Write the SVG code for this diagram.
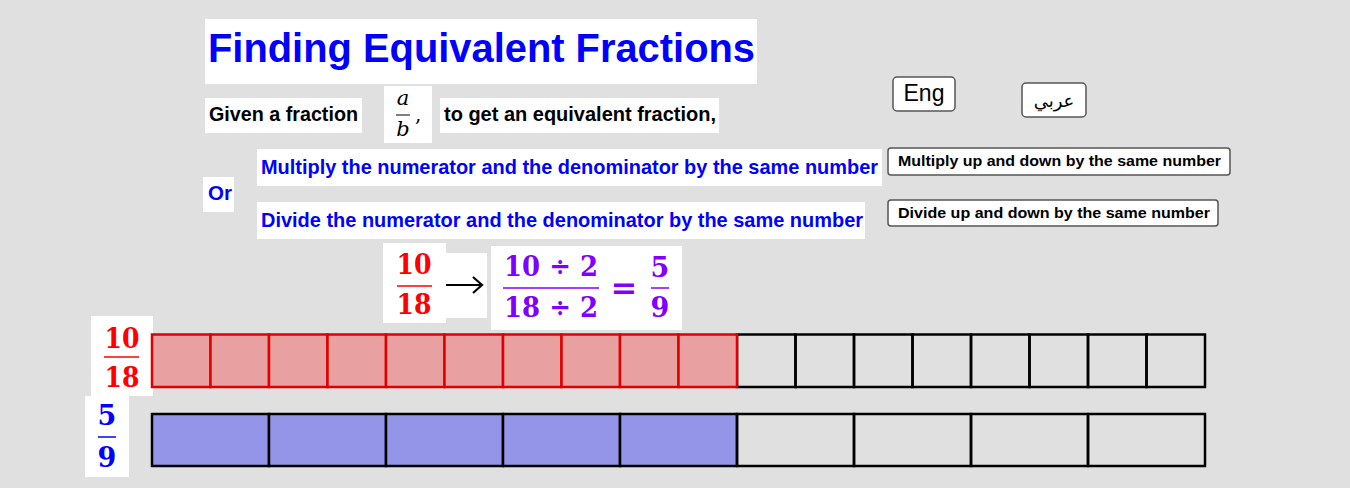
<svg xmlns="http://www.w3.org/2000/svg" width="1350" height="488" viewBox="0 0 1350 488">
<defs>
<style>
.bg{fill:#e0e0e0}
.wb{fill:#ffffff}
.sans{font-family:"Liberation Sans",Arial,sans-serif;font-weight:bold}
.blue{fill:#0000ff}
.blk{fill:#000000}
.math{font-family:"DejaVu Serif","Liberation Serif",serif;font-weight:bold}
.red{fill:#ff0000}
.purple{fill:#8000ff}
.btn{fill:#ffffff;stroke:#555555;stroke-width:1.5}
.rc{fill:#e8a0a0;stroke:#e00000;stroke-width:2.5}
.bc{fill:#9494e8;stroke:#000000;stroke-width:2.5}
.ec{fill:none;stroke:#000000;stroke-width:2.5}
</style>
</defs>
<rect class="bg" x="0" y="0" width="1350" height="488"/>

<g id="title">
<rect class="wb" x="205" y="19" width="552" height="65"/>
<text class="sans blue" x="208" y="62" font-size="40" textLength="547" lengthAdjust="spacingAndGlyphs">Finding Equivalent Fractions</text>
</g>

<g id="given">
<rect class="wb" x="205" y="98" width="157" height="35"/>
<text class="sans blk" x="209" y="121" font-size="20" textLength="149" lengthAdjust="spacingAndGlyphs">Given a fraction</text>
</g>

<g id="ab">
<rect class="wb" x="384" y="86" width="48" height="57"/>
<text x="403" y="105" font-family="'DejaVu Serif','Liberation Serif',serif" font-style="italic" font-size="21" text-anchor="middle">a</text>
<line x1="396" y1="115" x2="410" y2="115" stroke="#000" stroke-width="1"/>
<text x="403" y="136" font-family="'DejaVu Serif','Liberation Serif',serif" font-style="italic" font-size="21" text-anchor="middle">b</text>
<text x="415" y="121" font-family="'DejaVu Serif','Liberation Serif',serif" font-size="20">,</text>
</g>

<g id="toget">
<rect class="wb" x="440" y="98" width="279" height="35"/>
<text class="sans blk" x="444" y="121" font-size="20" textLength="272" lengthAdjust="spacingAndGlyphs">to get an equivalent fraction,</text>
</g>

<g id="or">
<rect class="wb" x="203" y="177" width="31" height="35"/>
<text class="sans blue" x="208" y="200" font-size="21" textLength="24" lengthAdjust="spacingAndGlyphs">Or</text>
</g>

<g id="multiply">
<rect class="wb" x="257" y="149" width="625" height="37"/>
<text class="sans blue" x="261" y="174" font-size="21" textLength="617" lengthAdjust="spacingAndGlyphs">Multiply the numerator and the denominator by the same number</text>
</g>

<g id="divide">
<rect class="wb" x="257" y="202" width="608" height="37"/>
<text class="sans blue" x="261" y="227" font-size="21" textLength="602" lengthAdjust="spacingAndGlyphs">Divide the numerator and the denominator by the same number</text>
</g>

<g id="btn-eng">
<rect class="btn" x="893" y="77" width="62" height="34" rx="4"/>
<text x="924" y="101" font-family="'Liberation Sans',Arial,sans-serif" font-size="23" text-anchor="middle">Eng</text>
</g>

<g id="btn-ar">
<rect class="btn" x="1022" y="83" width="64" height="34" rx="4"/>
<text x="1054" y="107" font-family="'DejaVu Sans','Noto Sans',sans-serif" font-size="18" text-anchor="middle">عربي</text>
</g>

<g id="btn-mult">
<rect class="btn" x="888" y="148" width="342" height="27" rx="3"/>
<text class="sans blk" x="898" y="166" font-size="15" textLength="323" lengthAdjust="spacingAndGlyphs">Multiply up and down by the same number</text>
</g>

<g id="btn-div">
<rect class="btn" x="888" y="200" width="330" height="26" rx="3"/>
<text class="sans blk" x="898" y="218" font-size="15" textLength="312" lengthAdjust="spacingAndGlyphs">Divide up and down by the same number</text>
</g>

<g id="frac-10-18-eq">
<rect class="wb" x="383" y="243" width="63" height="80"/>
<rect class="wb" x="446" y="253" width="41" height="65"/>
<text class="math red" x="414" y="274" font-size="27" text-anchor="middle" textLength="35" lengthAdjust="spacingAndGlyphs">10</text>
<line x1="397" y1="286" x2="432" y2="286" stroke="#ff0000" stroke-width="1.5"/>
<text class="math red" x="414" y="314" font-size="27" text-anchor="middle" textLength="35" lengthAdjust="spacingAndGlyphs">18</text>
<line x1="446" y1="285" x2="482" y2="285" stroke="#000" stroke-width="2.2"/>
<polyline points="473,277 482,285 473,293" fill="none" stroke="#000" stroke-width="2.2"/>
</g>

<g id="frac-division">
<rect class="wb" x="491" y="246" width="191" height="84"/>
<text class="math purple" x="551" y="276" font-size="27" text-anchor="middle" textLength="94" lengthAdjust="spacingAndGlyphs">10 ÷ 2</text>
<line x1="503" y1="288" x2="599" y2="288" stroke="#8000ff" stroke-width="1.5"/>
<text class="math purple" x="551" y="317" font-size="27" text-anchor="middle" textLength="94" lengthAdjust="spacingAndGlyphs">18 ÷ 2</text>
<text class="math purple" x="624" y="299" font-size="32" text-anchor="middle">=</text>
<text class="math purple" x="660" y="277" font-size="27" text-anchor="middle">5</text>
<line x1="651" y1="288" x2="669" y2="288" stroke="#8000ff" stroke-width="1.5"/>
<text class="math purple" x="660" y="317" font-size="27" text-anchor="middle">9</text>
</g>

<g id="label-10-18">
<rect class="wb" x="91" y="316" width="62" height="80"/>
<text class="math red" x="122" y="348" font-size="27" text-anchor="middle" textLength="35" lengthAdjust="spacingAndGlyphs">10</text>
<line x1="104" y1="357" x2="139" y2="357" stroke="#ff0000" stroke-width="1.5"/>
<text class="math red" x="122" y="387" font-size="27" text-anchor="middle" textLength="35" lengthAdjust="spacingAndGlyphs">18</text>
</g>

<g id="label-5-9">
<rect class="wb" x="85" y="396" width="44" height="81"/>
<text class="math blue" x="107" y="425" font-size="27" text-anchor="middle">5</text>
<line x1="98" y1="437" x2="116" y2="437" stroke="#0000ff" stroke-width="1.5"/>
<text class="math blue" x="107" y="467" font-size="27" text-anchor="middle">9</text>
</g>

<g id="bar-18">
<rect class="ec" x="737" y="334.5" width="58.5" height="52.5"/>
<rect class="ec" x="795.5" y="334.5" width="58.5" height="52.5"/>
<rect class="ec" x="854" y="334.5" width="58.5" height="52.5"/>
<rect class="ec" x="912.5" y="334.5" width="58.5" height="52.5"/>
<rect class="ec" x="971" y="334.5" width="58.5" height="52.5"/>
<rect class="ec" x="1029.5" y="334.5" width="58.5" height="52.5"/>
<rect class="ec" x="1088" y="334.5" width="58.5" height="52.5"/>
<rect class="ec" x="1146.5" y="334.5" width="58.5" height="52.5"/>
<rect class="rc" x="152" y="334.5" width="58.5" height="52.5"/>
<rect class="rc" x="210.5" y="334.5" width="58.5" height="52.5"/>
<rect class="rc" x="269" y="334.5" width="58.5" height="52.5"/>
<rect class="rc" x="327.5" y="334.5" width="58.5" height="52.5"/>
<rect class="rc" x="386" y="334.5" width="58.5" height="52.5"/>
<rect class="rc" x="444.5" y="334.5" width="58.5" height="52.5"/>
<rect class="rc" x="503" y="334.5" width="58.5" height="52.5"/>
<rect class="rc" x="561.5" y="334.5" width="58.5" height="52.5"/>
<rect class="rc" x="620" y="334.5" width="58.5" height="52.5"/>
<rect class="rc" x="678.5" y="334.5" width="58.5" height="52.5"/>
</g>

<g id="bar-9">
<rect class="bc" x="152" y="414" width="117" height="52"/>
<rect class="bc" x="269" y="414" width="117" height="52"/>
<rect class="bc" x="386" y="414" width="117" height="52"/>
<rect class="bc" x="503" y="414" width="117" height="52"/>
<rect class="bc" x="620" y="414" width="117" height="52"/>
<rect class="ec" x="737" y="414" width="117" height="52"/>
<rect class="ec" x="854" y="414" width="117" height="52"/>
<rect class="ec" x="971" y="414" width="117" height="52"/>
<rect class="ec" x="1088" y="414" width="117" height="52"/>
</g>

<g id="connectors"></g>
</svg>
